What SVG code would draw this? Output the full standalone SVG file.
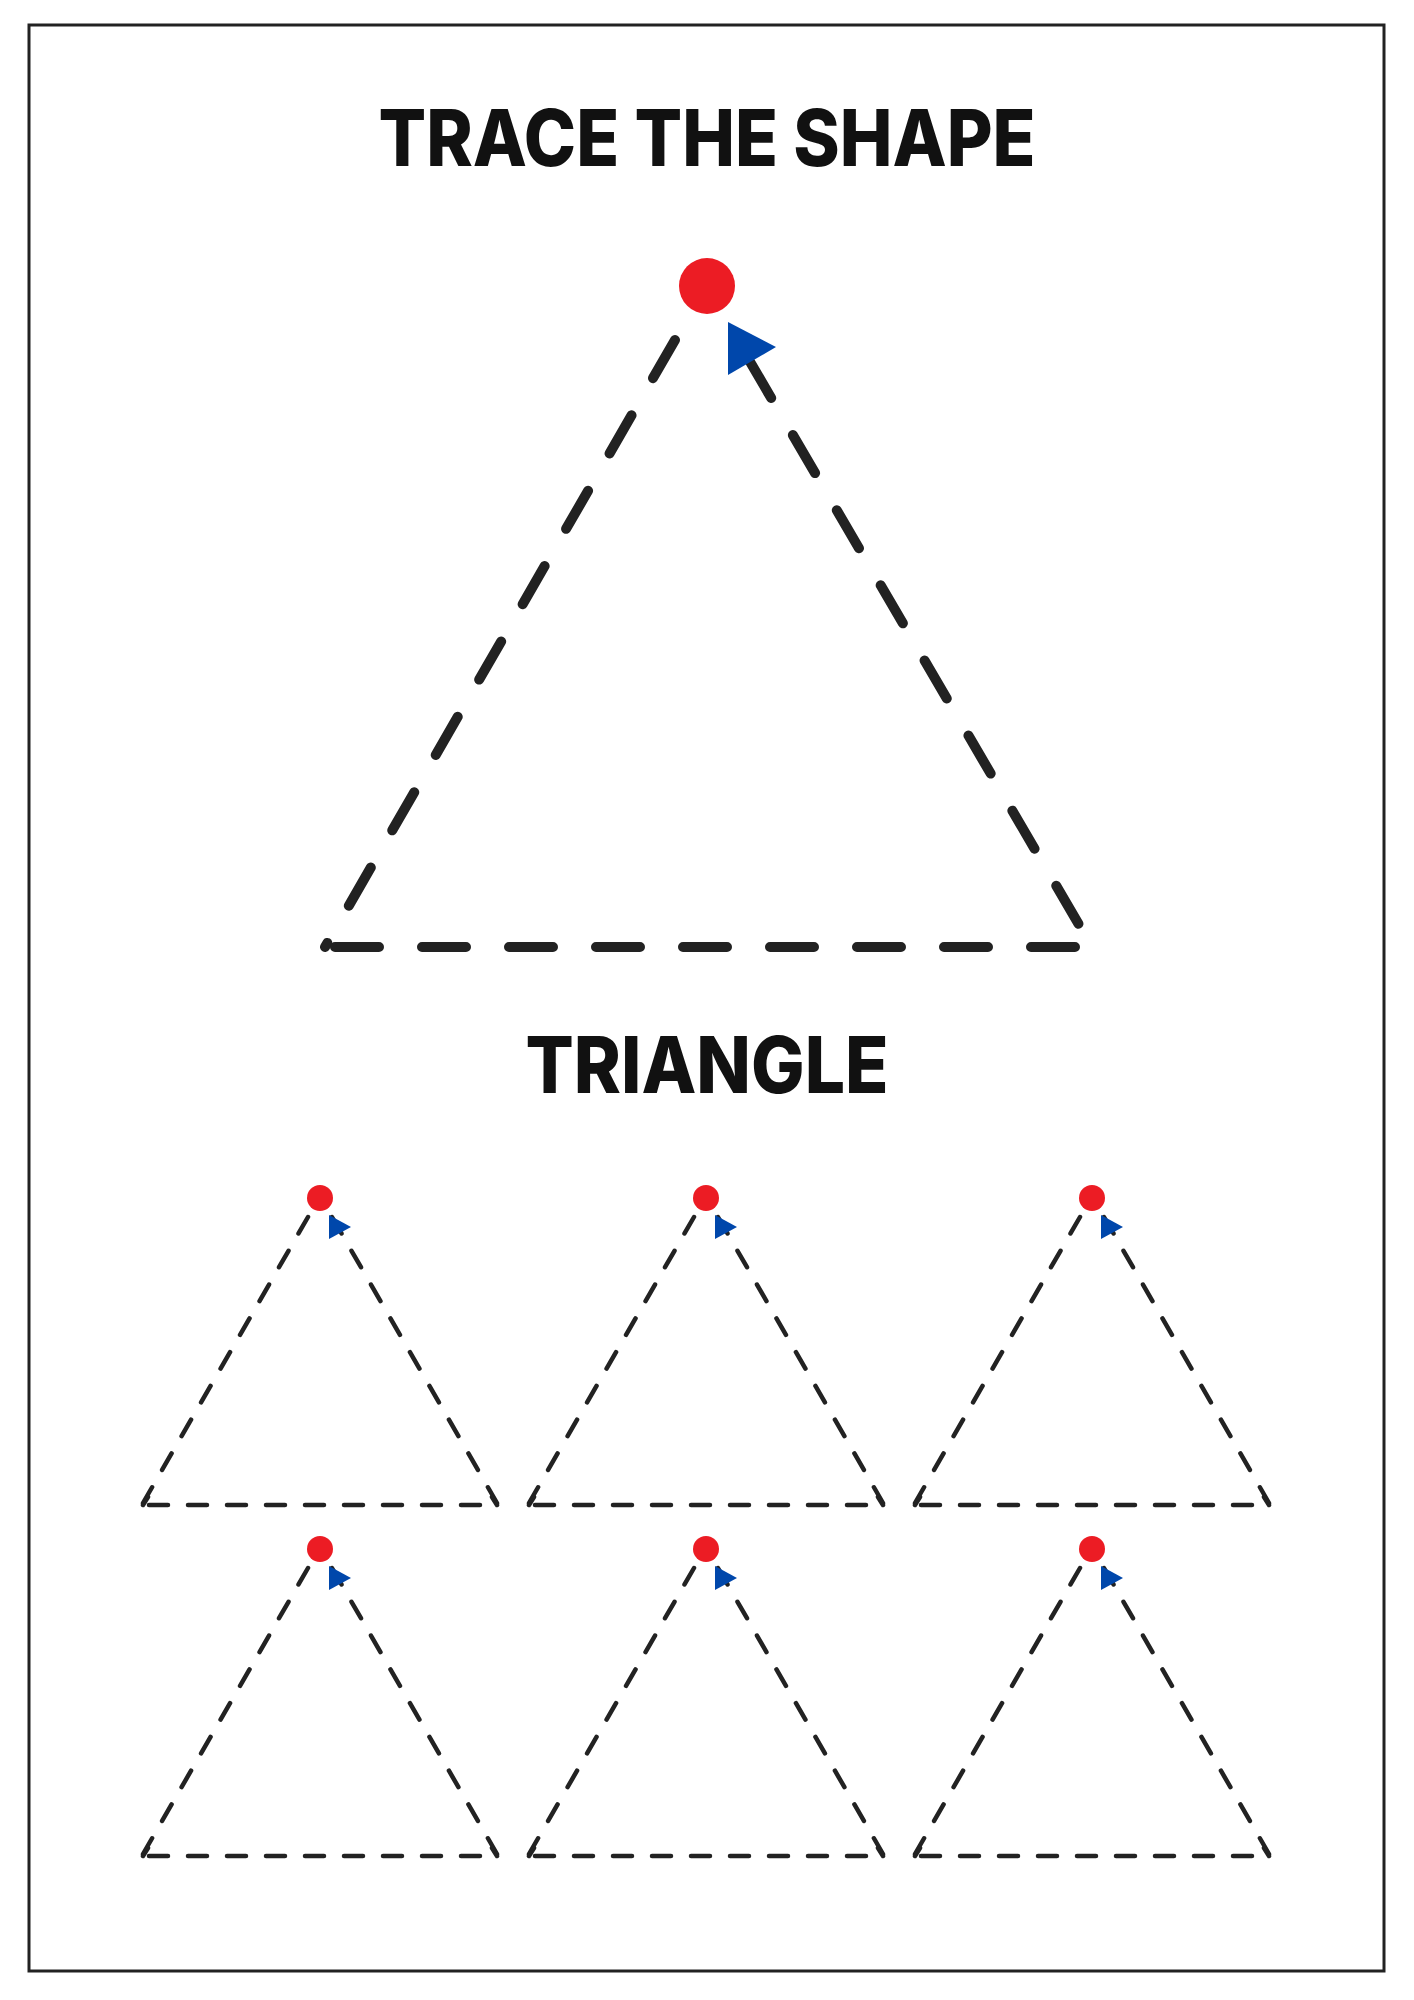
<svg xmlns="http://www.w3.org/2000/svg" width="1414" height="2000" viewBox="0 0 1414 2000">
<style>
.t{font-family:Inter,"Liberation Sans",sans-serif;font-weight:800;fill:#111;text-anchor:middle}
.big{fill:none;stroke:#222;stroke-width:10;stroke-linecap:round;stroke-linejoin:round;stroke-dasharray:44 43}
.sm{fill:none;stroke:#222;stroke-width:4.5;stroke-linecap:round;stroke-dasharray:19 20}
.dot{fill:#ec1c24}.arr{fill:#0047ab}
</style>
<defs>
<g id="small">
<path class="sm" d="M-12,-170 L-177,116"/>
<path class="sm" d="M12,-170 L177,116"/>
<path class="sm" d="M-177,118 L177,118" stroke-dashoffset="-6"/>
<path class="sm" d="M-177,118 L-172,110 M177,118 L172,110" stroke-dasharray="none"/>
<circle class="dot" cx="0" cy="-189" r="13"/>
<polygon class="arr" points="9,-172 31,-160 9,-148"/>
</g>
</defs>
<rect x="29" y="25" width="1355" height="1946" fill="none" stroke="#222" stroke-width="3"/>
<text class="t" x="707" y="166" font-size="78" textLength="657" lengthAdjust="spacingAndGlyphs">TRACE THE SHAPE</text>
<g id="big-triangle">
<path class="big" d="M675,340 L325,947"/>
<path class="big" d="M749,360 L1092,947"/>
<path class="big" d="M325,947 L1092,947" stroke-dashoffset="-10"/>
<circle class="dot" cx="707" cy="286" r="28"/>
<polygon class="arr" points="728,322 776,347 728,375"/>
</g>
<text class="t" x="707" y="1093" font-size="78" textLength="363" lengthAdjust="spacingAndGlyphs">TRIANGLE</text>
<g id="s1"><use href="#small" x="320" y="1387"/></g>
<g id="s2"><use href="#small" x="706" y="1387"/></g>
<g id="s3"><use href="#small" x="1092" y="1387"/></g>
<g id="s4"><use href="#small" x="320" y="1738"/></g>
<g id="s5"><use href="#small" x="706" y="1738"/></g>
<g id="s6"><use href="#small" x="1092" y="1738"/></g>
</svg>
